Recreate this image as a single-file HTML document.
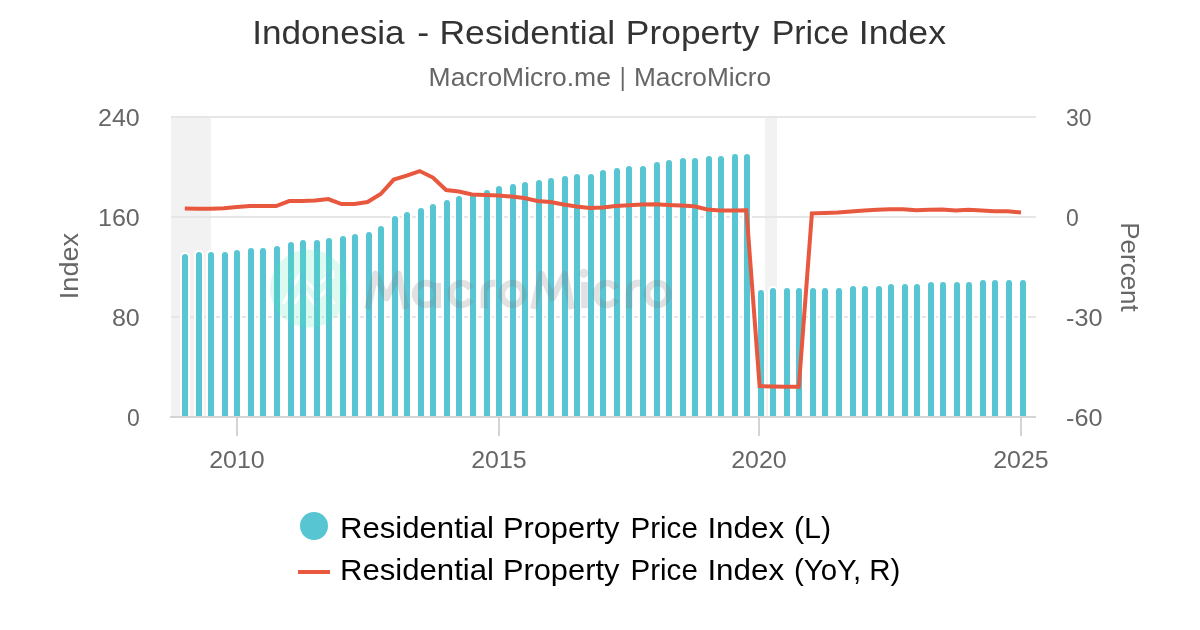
<!DOCTYPE html>
<html><head><meta charset="utf-8"><style>
html,body{margin:0;padding:0;background:#fff;width:1200px;height:630px;overflow:hidden}
svg{display:block;will-change:transform}
text{font-family:"Liberation Sans",sans-serif}
</style></head><body>
<svg width="1200" height="630" viewBox="0 0 1200 630">
<rect width="1200" height="630" fill="#fff"/>
<g font-size="33.6" fill="#333"><text x="252.26" y="44" textLength="152.36" lengthAdjust="spacingAndGlyphs">Indonesia</text><text x="417.33" y="44" textLength="11.93" lengthAdjust="spacingAndGlyphs">-</text><text x="439.48" y="44" textLength="175.76" lengthAdjust="spacingAndGlyphs">Residential</text><text x="625.89" y="44" textLength="133.61" lengthAdjust="spacingAndGlyphs">Property</text><text x="771.68" y="44" textLength="77.35" lengthAdjust="spacingAndGlyphs">Price</text><text x="858.82" y="44" textLength="87.15" lengthAdjust="spacingAndGlyphs">Index</text></g>
<g font-size="25.4" fill="#666"><text x="428.62" y="86" textLength="182.26" lengthAdjust="spacingAndGlyphs">MacroMicro.me</text><text x="619.7" y="86" textLength="5.95" lengthAdjust="spacingAndGlyphs">|</text><text x="634.03" y="86" textLength="137.0" lengthAdjust="spacingAndGlyphs">MacroMicro</text></g>
<rect x="171" y="117" width="40" height="300" fill="#f2f2f2"/>
<rect x="765" y="117" width="12" height="300" fill="#f2f2f2"/>
<g stroke="#e6e6e6" stroke-width="2">
<line x1="171" y1="117" x2="1036" y2="117"/>
<line x1="171" y1="217" x2="1036" y2="217"/>
<line x1="171" y1="317" x2="1036" y2="317"/>
</g>
<path d="M180.0,417V257A5,5 0 0 1 185.0,252H185.0A5,5 0 0 1 190.0,257V417ZM194.0,417V255A5,5 0 0 1 199.0,250H199.0A5,5 0 0 1 204.0,255V417ZM206.0,417V255A5,5 0 0 1 211.0,250H211.0A5,5 0 0 1 216.0,255V417ZM220.0,417V255A5,5 0 0 1 225.0,250H225.0A5,5 0 0 1 230.0,255V417ZM232.0,417V253A5,5 0 0 1 237.0,248H237.0A5,5 0 0 1 242.0,253V417ZM246.0,417V251A5,5 0 0 1 251.0,246H251.0A5,5 0 0 1 256.0,251V417ZM258.0,417V251A5,5 0 0 1 263.0,246H263.0A5,5 0 0 1 268.0,251V417ZM272.0,417V249A5,5 0 0 1 277.0,244H277.0A5,5 0 0 1 282.0,249V417ZM286.0,417V245A5,5 0 0 1 291.0,240H291.0A5,5 0 0 1 296.0,245V417ZM298.0,417V243A5,5 0 0 1 303.0,238H303.0A5,5 0 0 1 308.0,243V417ZM312.0,417V243A5,5 0 0 1 317.0,238H317.0A5,5 0 0 1 322.0,243V417ZM324.0,417V241A5,5 0 0 1 329.0,236H329.0A5,5 0 0 1 334.0,241V417ZM338.0,417V239A5,5 0 0 1 343.0,234H343.0A5,5 0 0 1 348.0,239V417ZM350.0,417V237A5,5 0 0 1 355.0,232H355.0A5,5 0 0 1 360.0,237V417ZM364.0,417V235A5,5 0 0 1 369.0,230H369.0A5,5 0 0 1 374.0,235V417ZM376.0,417V229A5,5 0 0 1 381.0,224H381.0A5,5 0 0 1 386.0,229V417ZM390.0,417V219A5,5 0 0 1 395.0,214H395.0A5,5 0 0 1 400.0,219V417ZM402.0,417V215A5,5 0 0 1 407.0,210H407.0A5,5 0 0 1 412.0,215V417ZM416.0,417V211A5,5 0 0 1 421.0,206H421.0A5,5 0 0 1 426.0,211V417ZM428.0,417V207A5,5 0 0 1 433.0,202H433.0A5,5 0 0 1 438.0,207V417ZM442.0,417V203A5,5 0 0 1 447.0,198H447.0A5,5 0 0 1 452.0,203V417ZM454.0,417V199A5,5 0 0 1 459.0,194H459.0A5,5 0 0 1 464.0,199V417ZM468.0,417V196A5,5 0 0 1 473.0,191H473.0A5,5 0 0 1 478.0,196V417ZM482.0,417V193A5,5 0 0 1 487.0,188H487.0A5,5 0 0 1 492.0,193V417ZM494.0,417V189A5,5 0 0 1 499.0,184H499.0A5,5 0 0 1 504.0,189V417ZM508.0,417V187A5,5 0 0 1 513.0,182H513.0A5,5 0 0 1 518.0,187V417ZM520.0,417V185A5,5 0 0 1 525.0,180H525.0A5,5 0 0 1 530.0,185V417ZM534.0,417V183A5,5 0 0 1 539.0,178H539.0A5,5 0 0 1 544.0,183V417ZM546.0,417V181A5,5 0 0 1 551.0,176H551.0A5,5 0 0 1 556.0,181V417ZM560.0,417V179A5,5 0 0 1 565.0,174H565.0A5,5 0 0 1 570.0,179V417ZM572.0,417V177A5,5 0 0 1 577.0,172H577.0A5,5 0 0 1 582.0,177V417ZM586.0,417V177A5,5 0 0 1 591.0,172H591.0A5,5 0 0 1 596.0,177V417ZM598.0,417V173A5,5 0 0 1 603.0,168H603.0A5,5 0 0 1 608.0,173V417ZM612.0,417V171A5,5 0 0 1 617.0,166H617.0A5,5 0 0 1 622.0,171V417ZM624.0,417V169A5,5 0 0 1 629.0,164H629.0A5,5 0 0 1 634.0,169V417ZM638.0,417V169A5,5 0 0 1 643.0,164H643.0A5,5 0 0 1 648.0,169V417ZM652.0,417V165A5,5 0 0 1 657.0,160H657.0A5,5 0 0 1 662.0,165V417ZM664.0,417V163A5,5 0 0 1 669.0,158H669.0A5,5 0 0 1 674.0,163V417ZM678.0,417V161A5,5 0 0 1 683.0,156H683.0A5,5 0 0 1 688.0,161V417ZM690.0,417V161A5,5 0 0 1 695.0,156H695.0A5,5 0 0 1 700.0,161V417ZM704.0,417V159A5,5 0 0 1 709.0,154H709.0A5,5 0 0 1 714.0,159V417ZM716.0,417V159A5,5 0 0 1 721.0,154H721.0A5,5 0 0 1 726.0,159V417ZM730.0,417V157A5,5 0 0 1 735.0,152H735.0A5,5 0 0 1 740.0,157V417ZM742.0,417V157A5,5 0 0 1 747.0,152H747.0A5,5 0 0 1 752.0,157V417ZM756.0,417V293A5,5 0 0 1 761.0,288H761.0A5,5 0 0 1 766.0,293V417ZM768.0,417V291A5,5 0 0 1 773.0,286H773.0A5,5 0 0 1 778.0,291V417ZM782.0,417V291A5,5 0 0 1 787.0,286H787.0A5,5 0 0 1 792.0,291V417ZM794.0,417V291A5,5 0 0 1 799.0,286H799.0A5,5 0 0 1 804.0,291V417ZM808.0,417V291A5,5 0 0 1 813.0,286H813.0A5,5 0 0 1 818.0,291V417ZM820.0,417V291A5,5 0 0 1 825.0,286H825.0A5,5 0 0 1 830.0,291V417ZM834.0,417V291A5,5 0 0 1 839.0,286H839.0A5,5 0 0 1 844.0,291V417ZM848.0,417V289A5,5 0 0 1 853.0,284H853.0A5,5 0 0 1 858.0,289V417ZM860.0,417V289A5,5 0 0 1 865.0,284H865.0A5,5 0 0 1 870.0,289V417ZM874.0,417V289A5,5 0 0 1 879.0,284H879.0A5,5 0 0 1 884.0,289V417ZM886.0,417V287A5,5 0 0 1 891.0,282H891.0A5,5 0 0 1 896.0,287V417ZM900.0,417V287A5,5 0 0 1 905.0,282H905.0A5,5 0 0 1 910.0,287V417ZM912.0,417V287A5,5 0 0 1 917.0,282H917.0A5,5 0 0 1 922.0,287V417ZM926.0,417V285A5,5 0 0 1 931.0,280H931.0A5,5 0 0 1 936.0,285V417ZM938.0,417V285A5,5 0 0 1 943.0,280H943.0A5,5 0 0 1 948.0,285V417ZM952.0,417V285A5,5 0 0 1 957.0,280H957.0A5,5 0 0 1 962.0,285V417ZM964.0,417V285A5,5 0 0 1 969.0,280H969.0A5,5 0 0 1 974.0,285V417ZM978.0,417V283A5,5 0 0 1 983.0,278H983.0A5,5 0 0 1 988.0,283V417ZM990.0,417V283A5,5 0 0 1 995.0,278H995.0A5,5 0 0 1 1000.0,283V417ZM1004.0,417V283A5,5 0 0 1 1009.0,278H1009.0A5,5 0 0 1 1014.0,283V417ZM1018.0,417V283A5,5 0 0 1 1023.0,278H1023.0A5,5 0 0 1 1028.0,283V417Z" fill="#fff"/>
<path d="M182.0,417V257A3,3 0 0 1 185.0,254H185.0A3,3 0 0 1 188.0,257V417ZM196.0,417V255A3,3 0 0 1 199.0,252H199.0A3,3 0 0 1 202.0,255V417ZM208.0,417V255A3,3 0 0 1 211.0,252H211.0A3,3 0 0 1 214.0,255V417ZM222.0,417V255A3,3 0 0 1 225.0,252H225.0A3,3 0 0 1 228.0,255V417ZM234.0,417V253A3,3 0 0 1 237.0,250H237.0A3,3 0 0 1 240.0,253V417ZM248.0,417V251A3,3 0 0 1 251.0,248H251.0A3,3 0 0 1 254.0,251V417ZM260.0,417V251A3,3 0 0 1 263.0,248H263.0A3,3 0 0 1 266.0,251V417ZM274.0,417V249A3,3 0 0 1 277.0,246H277.0A3,3 0 0 1 280.0,249V417ZM288.0,417V245A3,3 0 0 1 291.0,242H291.0A3,3 0 0 1 294.0,245V417ZM300.0,417V243A3,3 0 0 1 303.0,240H303.0A3,3 0 0 1 306.0,243V417ZM314.0,417V243A3,3 0 0 1 317.0,240H317.0A3,3 0 0 1 320.0,243V417ZM326.0,417V241A3,3 0 0 1 329.0,238H329.0A3,3 0 0 1 332.0,241V417ZM340.0,417V239A3,3 0 0 1 343.0,236H343.0A3,3 0 0 1 346.0,239V417ZM352.0,417V237A3,3 0 0 1 355.0,234H355.0A3,3 0 0 1 358.0,237V417ZM366.0,417V235A3,3 0 0 1 369.0,232H369.0A3,3 0 0 1 372.0,235V417ZM378.0,417V229A3,3 0 0 1 381.0,226H381.0A3,3 0 0 1 384.0,229V417ZM392.0,417V219A3,3 0 0 1 395.0,216H395.0A3,3 0 0 1 398.0,219V417ZM404.0,417V215A3,3 0 0 1 407.0,212H407.0A3,3 0 0 1 410.0,215V417ZM418.0,417V211A3,3 0 0 1 421.0,208H421.0A3,3 0 0 1 424.0,211V417ZM430.0,417V207A3,3 0 0 1 433.0,204H433.0A3,3 0 0 1 436.0,207V417ZM444.0,417V203A3,3 0 0 1 447.0,200H447.0A3,3 0 0 1 450.0,203V417ZM456.0,417V199A3,3 0 0 1 459.0,196H459.0A3,3 0 0 1 462.0,199V417ZM470.0,417V196A3,3 0 0 1 473.0,193H473.0A3,3 0 0 1 476.0,196V417ZM484.0,417V193A3,3 0 0 1 487.0,190H487.0A3,3 0 0 1 490.0,193V417ZM496.0,417V189A3,3 0 0 1 499.0,186H499.0A3,3 0 0 1 502.0,189V417ZM510.0,417V187A3,3 0 0 1 513.0,184H513.0A3,3 0 0 1 516.0,187V417ZM522.0,417V185A3,3 0 0 1 525.0,182H525.0A3,3 0 0 1 528.0,185V417ZM536.0,417V183A3,3 0 0 1 539.0,180H539.0A3,3 0 0 1 542.0,183V417ZM548.0,417V181A3,3 0 0 1 551.0,178H551.0A3,3 0 0 1 554.0,181V417ZM562.0,417V179A3,3 0 0 1 565.0,176H565.0A3,3 0 0 1 568.0,179V417ZM574.0,417V177A3,3 0 0 1 577.0,174H577.0A3,3 0 0 1 580.0,177V417ZM588.0,417V177A3,3 0 0 1 591.0,174H591.0A3,3 0 0 1 594.0,177V417ZM600.0,417V173A3,3 0 0 1 603.0,170H603.0A3,3 0 0 1 606.0,173V417ZM614.0,417V171A3,3 0 0 1 617.0,168H617.0A3,3 0 0 1 620.0,171V417ZM626.0,417V169A3,3 0 0 1 629.0,166H629.0A3,3 0 0 1 632.0,169V417ZM640.0,417V169A3,3 0 0 1 643.0,166H643.0A3,3 0 0 1 646.0,169V417ZM654.0,417V165A3,3 0 0 1 657.0,162H657.0A3,3 0 0 1 660.0,165V417ZM666.0,417V163A3,3 0 0 1 669.0,160H669.0A3,3 0 0 1 672.0,163V417ZM680.0,417V161A3,3 0 0 1 683.0,158H683.0A3,3 0 0 1 686.0,161V417ZM692.0,417V161A3,3 0 0 1 695.0,158H695.0A3,3 0 0 1 698.0,161V417ZM706.0,417V159A3,3 0 0 1 709.0,156H709.0A3,3 0 0 1 712.0,159V417ZM718.0,417V159A3,3 0 0 1 721.0,156H721.0A3,3 0 0 1 724.0,159V417ZM732.0,417V157A3,3 0 0 1 735.0,154H735.0A3,3 0 0 1 738.0,157V417ZM744.0,417V157A3,3 0 0 1 747.0,154H747.0A3,3 0 0 1 750.0,157V417ZM758.0,417V293A3,3 0 0 1 761.0,290H761.0A3,3 0 0 1 764.0,293V417ZM770.0,417V291A3,3 0 0 1 773.0,288H773.0A3,3 0 0 1 776.0,291V417ZM784.0,417V291A3,3 0 0 1 787.0,288H787.0A3,3 0 0 1 790.0,291V417ZM796.0,417V291A3,3 0 0 1 799.0,288H799.0A3,3 0 0 1 802.0,291V417ZM810.0,417V291A3,3 0 0 1 813.0,288H813.0A3,3 0 0 1 816.0,291V417ZM822.0,417V291A3,3 0 0 1 825.0,288H825.0A3,3 0 0 1 828.0,291V417ZM836.0,417V291A3,3 0 0 1 839.0,288H839.0A3,3 0 0 1 842.0,291V417ZM850.0,417V289A3,3 0 0 1 853.0,286H853.0A3,3 0 0 1 856.0,289V417ZM862.0,417V289A3,3 0 0 1 865.0,286H865.0A3,3 0 0 1 868.0,289V417ZM876.0,417V289A3,3 0 0 1 879.0,286H879.0A3,3 0 0 1 882.0,289V417ZM888.0,417V287A3,3 0 0 1 891.0,284H891.0A3,3 0 0 1 894.0,287V417ZM902.0,417V287A3,3 0 0 1 905.0,284H905.0A3,3 0 0 1 908.0,287V417ZM914.0,417V287A3,3 0 0 1 917.0,284H917.0A3,3 0 0 1 920.0,287V417ZM928.0,417V285A3,3 0 0 1 931.0,282H931.0A3,3 0 0 1 934.0,285V417ZM940.0,417V285A3,3 0 0 1 943.0,282H943.0A3,3 0 0 1 946.0,285V417ZM954.0,417V285A3,3 0 0 1 957.0,282H957.0A3,3 0 0 1 960.0,285V417ZM966.0,417V285A3,3 0 0 1 969.0,282H969.0A3,3 0 0 1 972.0,285V417ZM980.0,417V283A3,3 0 0 1 983.0,280H983.0A3,3 0 0 1 986.0,283V417ZM992.0,417V283A3,3 0 0 1 995.0,280H995.0A3,3 0 0 1 998.0,283V417ZM1006.0,417V283A3,3 0 0 1 1009.0,280H1009.0A3,3 0 0 1 1012.0,283V417ZM1020.0,417V283A3,3 0 0 1 1023.0,280H1023.0A3,3 0 0 1 1026.0,283V417Z" fill="#58c5d3"/>
<mask id="lm" maskUnits="userSpaceOnUse" x="260" y="240" width="100" height="100">
<rect x="260" y="240" width="100" height="100" fill="#fff"/>
<g stroke="#000" stroke-width="3" fill="none" stroke-linejoin="miter">
<polyline points="283,304 299.6,274.8 313.6,289 330,274"/>
<polyline points="294.3,304 303.6,289 313.6,303.2 325.7,290.7 334.3,304"/>
<polyline points="324.5,273 333,271.5 333,279" stroke-width="2.6"/>
</g>
</mask>
<circle cx="309" cy="288.5" r="39" fill="#48e4b4" fill-opacity="0.19" mask="url(#lm)"/>
<g opacity="0.23" stroke="#808080" stroke-width="6.8" fill="none">
<polyline points="367.5,309 375.5,274 386.5,298 398.5,274 406,309" stroke-linejoin="round"/>
<polyline points="533.5,309 541.5,274 552.5,298 564.5,274 572,309" stroke-linejoin="round"/>
<circle cx="426" cy="294" r="10.8"/>
<line x1="437.6" y1="283" x2="437.6" y2="308.2"/>
<path d="M470.85,288.6 A10.8,10.8 0 1 0 470.85,299.4"/>
<path d="M484,308.2 V293 Q484,283 495.5,283"/>
<circle cx="512.5" cy="294" r="10.8"/>
<line x1="584.5" y1="282" x2="584.5" y2="308.2"/>
<path d="M616.4,288.6 A10.8,10.8 0 1 0 616.4,299.4"/>
<path d="M629,308.2 V293 Q629,283 640.5,283"/>
<circle cx="657.7" cy="294" r="10.8"/>
</g>
<circle cx="583.8" cy="273.3" r="4.6" fill="#808080" fill-opacity="0.23"/>
<polyline points="184.8,208.5 197.6,208.7 210.7,208.7 223.8,208.25 237.0,207.05 249.9,206.05 262.9,206.05 276.1,206.05 289.2,201.05 302.1,201.05 315.1,200.55 328.3,199.05 341.5,204.05 354.5,204.05 367.5,202.05 380.7,194.05 393.8,179.55 406.7,175.55 419.7,171.05 432.9,177.55 446.1,190.05 458.9,191.55 472.0,194.55 485.1,195.05 498.3,195.55 511.2,196.55 524.2,198.05 537.3,201.05 550.5,202.05 563.5,204.55 576.6,206.55 589.7,208.05 602.9,207.55 615.8,206.05 628.8,205.35 641.9,204.55 655.1,204.35 668.0,205.05 681.0,205.55 694.2,206.35 707.3,209.55 720.2,210.55 733.2,210.55 746.4,210.25 759.6,386.05 772.6,386.55 785.6,386.85 798.8,386.85 811.9,213.35 824.8,213.0 837.8,212.5 851.0,211.5 864.2,210.5 877.0,209.8 890.1,209.2 903.2,209.2 916.4,210.2 929.3,209.7 942.3,209.5 955.5,210.5 968.6,209.8 981.6,210.4 994.7,211.2 1007.8,211.2 1021.0,212.5" fill="none" stroke="#e8583e" stroke-width="4" stroke-linejoin="miter"/>
<line x1="170" y1="417" x2="1036" y2="417" stroke="#d4d4d4" stroke-width="2"/>
<g stroke="#d4d4d4" stroke-width="2">
<line x1="237" y1="418" x2="237" y2="436"/>
<line x1="499" y1="418" x2="499" y2="436"/>
<line x1="759" y1="418" x2="759" y2="436"/>
<line x1="1021" y1="418" x2="1021" y2="436"/>
</g>
<g font-size="23" fill="#666">
<text x="139.8" y="126" text-anchor="end" textLength="41.8" lengthAdjust="spacingAndGlyphs">240</text>
<text x="139.8" y="226" text-anchor="end" textLength="41.8" lengthAdjust="spacingAndGlyphs">160</text>
<text x="139.8" y="326" text-anchor="end" textLength="27.9" lengthAdjust="spacingAndGlyphs">80</text>
<text x="139.8" y="426" text-anchor="end">0</text>
<text x="1066" y="126">30</text>
<text x="1066" y="226">0</text>
<text x="1066" y="326" textLength="36.5" lengthAdjust="spacingAndGlyphs">-30</text>
<text x="1066" y="426" textLength="36.5" lengthAdjust="spacingAndGlyphs">-60</text>
<g><text x="237" y="468" text-anchor="middle" textLength="55.5" lengthAdjust="spacingAndGlyphs">2010</text>
<text x="499" y="468" text-anchor="middle" textLength="55.5" lengthAdjust="spacingAndGlyphs">2015</text>
<text x="759" y="468" text-anchor="middle" textLength="55.5" lengthAdjust="spacingAndGlyphs">2020</text>
<text x="1021" y="468" text-anchor="middle" textLength="55.5" lengthAdjust="spacingAndGlyphs">2025</text></g>
</g>
<text transform="translate(78,266.1) rotate(-90)" text-anchor="middle" font-size="26" fill="#666" textLength="66.1" lengthAdjust="spacingAndGlyphs">Index</text>
<text transform="translate(1121.3,267) rotate(90)" text-anchor="middle" font-size="26" fill="#666">Percent</text>
<circle cx="314" cy="526" r="14" fill="#58c5d3"/>
<line x1="298" y1="572" x2="330" y2="572" stroke="#e8583e" stroke-width="4"/>
<g font-size="30" fill="#000"><text x="339.92" y="538" textLength="154.05" lengthAdjust="spacingAndGlyphs">Residential</text><text x="502.95" y="538" textLength="116.43" lengthAdjust="spacingAndGlyphs">Property</text><text x="630.53" y="538" textLength="67.32" lengthAdjust="spacingAndGlyphs">Price</text><text x="707.41" y="538" textLength="76.75" lengthAdjust="spacingAndGlyphs">Index</text><text x="793.99" y="538" textLength="37.21" lengthAdjust="spacingAndGlyphs">(L)</text></g>
<g font-size="30" fill="#000"><text x="339.92" y="580" textLength="154.05" lengthAdjust="spacingAndGlyphs">Residential</text><text x="502.95" y="580" textLength="116.43" lengthAdjust="spacingAndGlyphs">Property</text><text x="630.53" y="580" textLength="67.32" lengthAdjust="spacingAndGlyphs">Price</text><text x="707.41" y="580" textLength="76.75" lengthAdjust="spacingAndGlyphs">Index</text><text x="794.02" y="580" textLength="67.11" lengthAdjust="spacingAndGlyphs">(YoY,</text><text x="869.29" y="580" textLength="31.09" lengthAdjust="spacingAndGlyphs">R)</text></g>
</svg>
</body></html>
